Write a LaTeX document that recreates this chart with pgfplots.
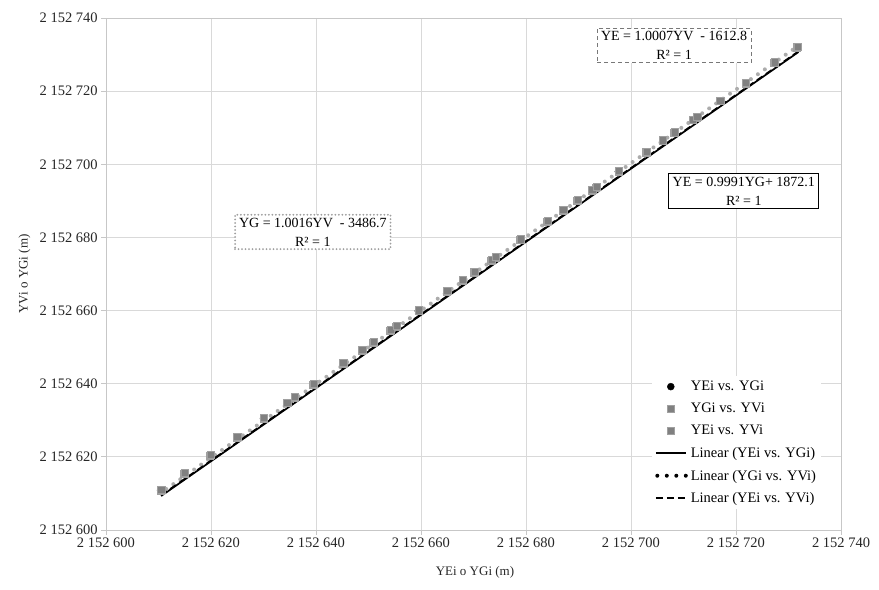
\documentclass[border=0pt]{standalone}
\usepackage{fontspec}
\setmainfont{Liberation Serif}
\usepackage{pgfplots}
\usepackage{pgfplotstable}
\pgfplotsset{compat=1.18}
\usetikzlibrary{calc}

\definecolor{gridgray}{RGB}{217,217,217}
\definecolor{sqgray}{RGB}{128,128,128}
\definecolor{dotgray}{RGB}{172,172,172}
\definecolor{boxgray}{RGB}{120,120,120}

\pgfplotsset{
    marklegend/.style={legend image code/.code={\draw[##1] plot coordinates {(15pt,0pt)};}},
    linelegend/.style={legend image code/.code={\draw[##1] (0pt,0pt) -- (30pt,0pt);}},
}

% YVi (x) -- YGi / YEi (y)
\pgfplotstableread{
x y
2152610.4 2152610.9
2152614.9 2152615.4
2152619.8 2152620.3
2152624.9 2152625.3
2152630.0 2152630.5
2152634.4 2152634.7
2152635.9 2152636.3
2152639.4 2152639.8
2152645.1 2152645.5
2152648.7 2152649.1
2152650.9 2152651.3
2152654.1 2152654.5
2152655.2 2152655.6
2152659.5 2152659.9
2152664.9 2152665.3
2152667.9 2152668.3
2152670.1 2152670.5
2152673.3 2152673.7
2152674.2 2152674.6
2152678.9 2152679.3
2152684.0 2152684.4
2152687.0 2152687.4
2152689.7 2152690.1
2152692.5 2152692.9
2152693.3 2152693.7
2152697.6 2152698.0
2152702.9 2152703.3
2152706.0 2152706.4
2152708.2 2152708.6
2152711.7 2152712.1
2152712.5 2152712.9
2152716.9 2152717.3
2152721.8 2152722.2
2152727.3 2152727.7
2152731.6 2152732.0
}\ygyv

\pgfplotstableread{
x y
2152610.5 2152611.1
2152615.0 2152615.6
2152619.9 2152620.5
2152625.0 2152625.5
2152630.1 2152630.7
2152634.5 2152634.9
2152636.0 2152636.5
2152639.5 2152640.0
2152645.2 2152645.7
2152648.8 2152649.3
2152651.0 2152651.5
2152654.2 2152654.7
2152655.3 2152655.8
2152659.6 2152660.1
2152665.0 2152665.5
2152668.0 2152668.5
2152670.2 2152670.7
2152673.4 2152673.9
2152674.3 2152674.8
2152679.0 2152679.5
2152684.1 2152684.6
2152687.1 2152687.6
2152689.8 2152690.3
2152692.6 2152693.1
2152693.4 2152693.9
2152697.7 2152698.2
2152703.0 2152703.5
2152706.1 2152706.6
2152708.3 2152708.8
2152711.8 2152712.3
2152712.6 2152713.1
2152717.0 2152717.5
2152721.9 2152722.4
2152727.4 2152727.9
2152731.7 2152732.2
}\yeyv

% YGi (x) -- YEi (y)
\pgfplotstableread{
x y
2152610.4 2152610.9
2152619.8 2152620.3
2152630.0 2152630.5
2152639.4 2152639.8
2152650.9 2152651.3
2152659.5 2152659.9
2152670.1 2152670.5
2152678.9 2152679.3
2152689.7 2152690.1
2152697.6 2152698.0
2152708.2 2152708.6
2152716.9 2152717.3
2152727.3 2152727.7
}\yeyg

\begin{document}
\begin{tikzpicture}[font=\fontsize{14.5}{17}\selectfont]
\begin{axis}[
    name=ax,
    scale only axis,
    width=735pt, height=512pt,
    xmin=2152600, xmax=2152740,
    ymin=2152600, ymax=2152740,
    xtick={2152600,2152620,2152640,2152660,2152680,2152700,2152720,2152740},
    ytick={2152600,2152620,2152640,2152660,2152680,2152700,2152720,2152740},
    scaled ticks=false,
    /pgf/number format/.cd, fixed, precision=0, 1000 sep={\ }, assume math mode=true,
    /pgfplots/.cd,
    tick label style={font=\fontsize{14.5}{17}\selectfont, text=black!85},
    grid=major,
    grid style={gridgray, line width=0.8pt},
    axis line style={gridgray!80!gray, line width=0.8pt},
    tick pos=left,
    tick align=outside,
    major tick length=5pt,
    tick style={gridgray!80!gray, line width=0.8pt},
    xlabel={YEi o YGi (m)},
    ylabel={YVi o YGi (m)},
    label style={font=\fontsize{13}{15}\selectfont, text=black!85},
    xlabel style={at={(axis description cs:0.502,-0.082)}, anchor=center},
    ylabel style={at={(axis description cs:-0.111,0.5)}, anchor=center},
    legend style={at={(0.973,0.301)}, anchor=north east, draw=none, fill=white,
        font=\fontsize{14.5}{17}\selectfont, inner sep=3pt,
        row sep=7pt, /tikz/every even column/.append style={column sep=6pt}},
    legend cell align=left,
]
\addplot[only marks, mark=*, mark size=3.5pt, black, marklegend]
    table[x=x, y=y] {\yeyg};
\addlegendentry{YEi vs. YGi}
\addplot[only marks, mark=square*, mark size=3.6pt, draw=sqgray!75!white, fill=sqgray, marklegend]
    table[x=x, y=y] {\ygyv};
\addlegendentry{YGi vs. YVi}
\addplot[only marks, mark=square*, mark size=3.6pt, draw=sqgray!75!white, fill=sqgray, marklegend]
    table[x=x, y=y] {\yeyv};
\addlegendentry{YEi vs. YVi}
\addplot[black, line width=1.7pt, linelegend]
    coordinates {(2152610.5,2152609.3) (2152731.9,2152730.7)};
\addlegendentry{Linear (YEi vs. YGi)}
\addplot[dotgray, line width=4pt, line cap=round, dash pattern=on 0pt off 8.5pt,
    legend image code/.code={\draw[black, line width=4pt, line cap=round, dash pattern=on 0pt off 9.5pt] (1.5pt,0pt) -- (31pt,0pt);}]
    coordinates {(2152611.5,2152611.2) (2152731.0,2152731.5)};
\addlegendentry{Linear (YGi vs. YVi)}
\addplot[black, line width=1.7pt, dash pattern=on 7pt off 4pt, linelegend]
    coordinates {(2152610.5,2152609.5) (2152731.9,2152730.9)};
\addlegendentry{Linear (YEi vs. YVi)}

\node[draw=boxgray, dash pattern=on 4pt off 3pt, line width=1pt, fill=white, align=center,
    inner xsep=4pt, inner ysep=3pt, font=\fontsize{14}{19}\selectfont]
    at (axis cs:2152708.2,2152732.4) {YE = 1.0007YV\ \ - 1612.8\\R² = 1};
\node[draw=black, line width=1pt, fill=white, align=center,
    inner xsep=4pt, inner ysep=3pt, font=\fontsize{14}{19}\selectfont]
    at (axis cs:2152721.5,2152692.7) {YE = 0.9991YG+\ 1872.1\\R² = 1};
\node[draw=gray!75, line width=2pt, dash pattern=on 0pt off 3.5pt, line cap=round,
    fill=white, align=center, inner xsep=4pt, inner ysep=3pt,
    font=\fontsize{14}{19}\selectfont]
    at (axis cs:2152639.4,2152681.5) {YG = 1.0016YV\ \ - 3486.7\\R² = 1};
\node[font=\fontsize{10}{12}\selectfont] at (axis description cs:-0.128,0.365) {.};
\end{axis}
\pgfresetboundingbox
\path[use as bounding box] ($(ax.south west)+(-106pt,-60pt)$) rectangle ($(ax.north east)+(38pt,18pt)$);
\end{tikzpicture}
\end{document}
